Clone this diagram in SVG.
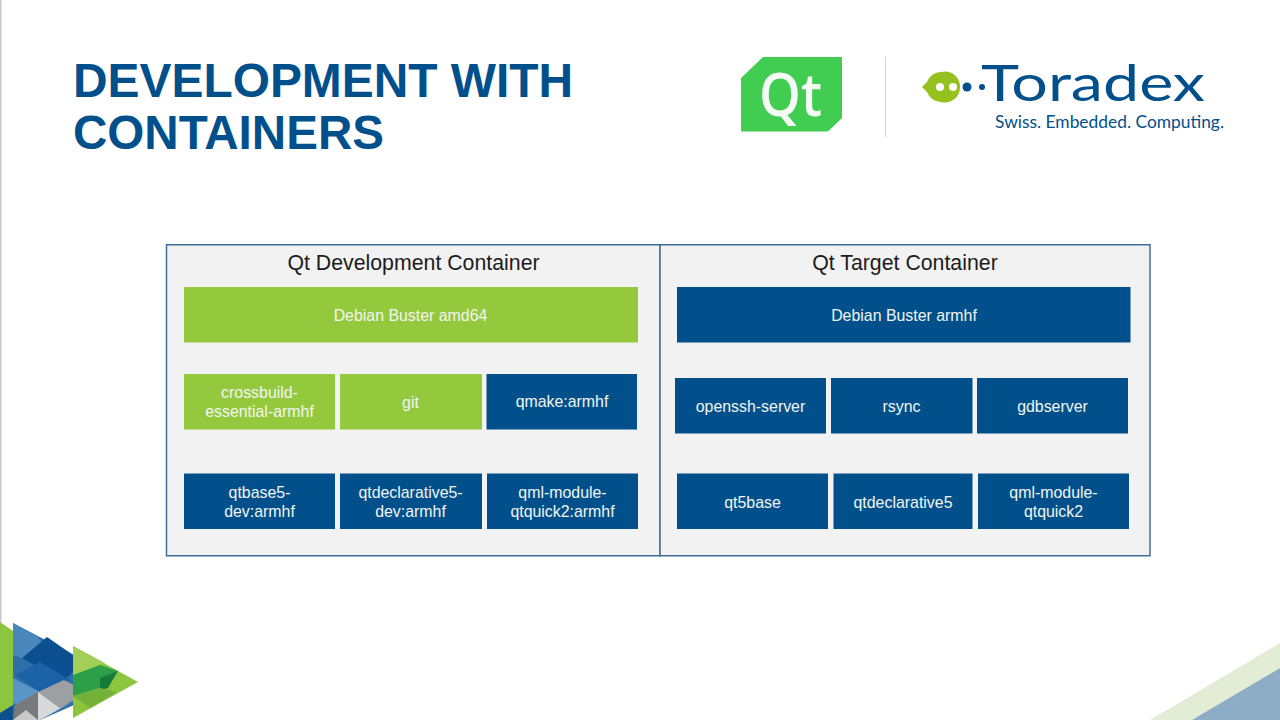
<svg xmlns="http://www.w3.org/2000/svg" width="1280" height="720" viewBox="0 0 1280 720">
<style>
text{font-family:"Liberation Sans",Arial,sans-serif}
.panel{fill:#f2f2f2;stroke:#3f6f96;stroke-width:1.5}
.g{fill:#95c93d}
.b{fill:#02508b}
.l{fill:#f1f5f3;font-size:15.900px;text-anchor:middle}
.h{fill:#1c1c1c;font-size:21.300px;text-anchor:middle}
</style>
<rect width="1280" height="720" fill="#fff"/>
<rect x="0" y="0" width="1.500" height="625" fill="#c9c9c9"/>
<g id="title"><text x="73" y="97" font-size="47.900" font-weight="700" fill="#02508b">DEVELOPMENT WITH</text><text x="73" y="149" font-size="47.900" font-weight="700" fill="#02508b" textLength="311" lengthAdjust="spacingAndGlyphs">CONTAINERS</text></g>
<g id="qt-logo"><path d="M763 57H842V118L828 131.500H741V78Z" fill="#41cd52"/><text x="790.500" y="116" font-size="60" fill="#f4fbf5" text-anchor="middle" style="font-family:'Open Sans',sans-serif;font-weight:600" textLength="63" lengthAdjust="spacingAndGlyphs">Qt</text></g>
<rect x="885" y="57" width="1" height="80" fill="#c8d8e2"/>
<g id="toradex-logo">
<path d="M941 72A15 15 0 0 1 960 87A15 15 0 0 1 941 102A15 15 0 0 1 927 92L922 87L927 82A15 15 0 0 1 941 72Z" fill="#95c11f"/>
<circle cx="940" cy="87" r="4" fill="#fff"/><circle cx="953" cy="87" r="4" fill="#fff"/>
<circle cx="967" cy="87" r="4.500" fill="#02508b"/><circle cx="982" cy="87" r="3" fill="#02508b"/>
<text x="981" y="100.500" font-size="50" fill="#02508b" textLength="224" lengthAdjust="spacingAndGlyphs" style="font-family:Lato,sans-serif;font-weight:400">Toradex</text>
<text x="995" y="128" font-size="17.500" fill="#02508b" textLength="229" lengthAdjust="spacingAndGlyphs" style="font-family:Lato,sans-serif">Swiss. Embedded. Computing.</text>
</g>
<g id="dev-container"><rect class="panel" x="166.500" y="244.750" width="493.500" height="311"/><text class="h" x="413.500" y="270">Qt Development Container</text></g>
<g id="target-container"><rect class="panel" x="660" y="244.750" width="490" height="311"/><text class="h" x="905" y="270">Qt Target Container</text></g>
<g id="debian-amd64"><rect class="g" x="184" y="287" width="454" height="55.500"/><text class="l" x="410.500" y="320.500">Debian Buster amd64</text></g>
<g id="crossbuild"><rect class="g" x="184" y="374" width="151" height="55.500"/><text class="l" x="259.500" y="398">crossbuild-</text><text class="l" x="259.500" y="417">essential-armhf</text></g>
<g id="git"><rect class="g" x="340" y="374" width="142" height="55.500"/><text class="l" x="410.500" y="407.500">git</text></g>
<g id="qmake"><rect class="b" x="486.500" y="374" width="150.500" height="55.500"/><text class="l" x="562" y="407">qmake:armhf</text></g>
<g id="qtbase5-dev"><rect class="b" x="184" y="473.500" width="151" height="55.500"/><text class="l" x="259.500" y="498">qtbase5-</text><text class="l" x="259.500" y="517">dev:armhf</text></g>
<g id="qtdeclarative5-dev"><rect class="b" x="340" y="473.500" width="142" height="55.500"/><text class="l" x="410.500" y="498">qtdeclarative5-</text><text class="l" x="410.500" y="517">dev:armhf</text></g>
<g id="qml-module-armhf"><rect class="b" x="487" y="473.500" width="151" height="55.500"/><text class="l" x="562.500" y="498">qml-module-</text><text class="l" x="562.500" y="517">qtquick2:armhf</text></g>
<g id="debian-armhf"><rect class="b" x="677" y="287" width="453.500" height="55.500"/><text class="l" x="904" y="320.500">Debian Buster armhf</text></g>
<g id="openssh"><rect class="b" x="675" y="378" width="151" height="55.500"/><text class="l" x="750.500" y="412">openssh-server</text></g>
<g id="rsync"><rect class="b" x="831" y="378" width="141.500" height="55.500"/><text class="l" x="901.500" y="412">rsync</text></g>
<g id="gdbserver"><rect class="b" x="977" y="378" width="151" height="55.500"/><text class="l" x="1052.500" y="412">gdbserver</text></g>
<g id="qt5base"><rect class="b" x="677" y="473.500" width="151" height="55.500"/><text class="l" x="752.500" y="507.500">qt5base</text></g>
<g id="qtdeclarative5"><rect class="b" x="833.500" y="473.500" width="139" height="55.500"/><text class="l" x="903" y="507.500">qtdeclarative5</text></g>
<g id="qml-module"><rect class="b" x="978" y="473.500" width="151" height="55.500"/><text class="l" x="1053.500" y="498">qml-module-</text><text class="l" x="1053.500" y="517">qtquick2</text></g>
<g id="corner-left">
<path d="M0 622L13 631V713H0Z" fill="#8cc63f"/>
<path d="M0 713L13 705V720H0Z" fill="#0d4f8f"/>
<path d="M13 623L74 655V705L40 720H13Z" fill="#2f6fa8"/>
<path d="M13 623L38 637L47 650L22 658L13 655Z" fill="#4a87bb"/>
<path d="M22 658L47 637L73 655V672L64 680L40 668Z" fill="#0c4f91"/>
<path d="M15 675L40 662L70 680L40 692Z" fill="#1b62a6"/>
<path d="M13 678L40 692L18 705L13 703Z" fill="#5a95c8"/>
<path d="M15 705L38 692V720H13Z" fill="#77797c"/>
<path d="M38 692L64 680L74 685V700L60 708Z" fill="#9d9fa2"/>
<path d="M38 692L60 708L72 702L40 720H38Z" fill="#d8d9da"/>
<path d="M13 720L26 710L38 720Z" fill="#c8c9cb"/>
<path d="M73 646L138 682L73 718Z" fill="#8cc63f"/>
<path d="M73 646L105 663L73 675Z" fill="#a2cf58"/>
<path d="M73 675L100 665L118 671L100 688L73 696Z" fill="#2d9f48"/>
<path d="M100 678L118 671L108 688L100 690Z" fill="#177a3a"/>
<path d="M73 696L100 688L117 692L90 708Z" fill="#74b13a"/>
</g>
<g id="corner-right">
<path d="M1150 720L1280 643V720Z" fill="#e3ecd4"/>
<path d="M1192 720L1280 668V720Z" fill="#8dadc6"/>
</g>
</svg>
